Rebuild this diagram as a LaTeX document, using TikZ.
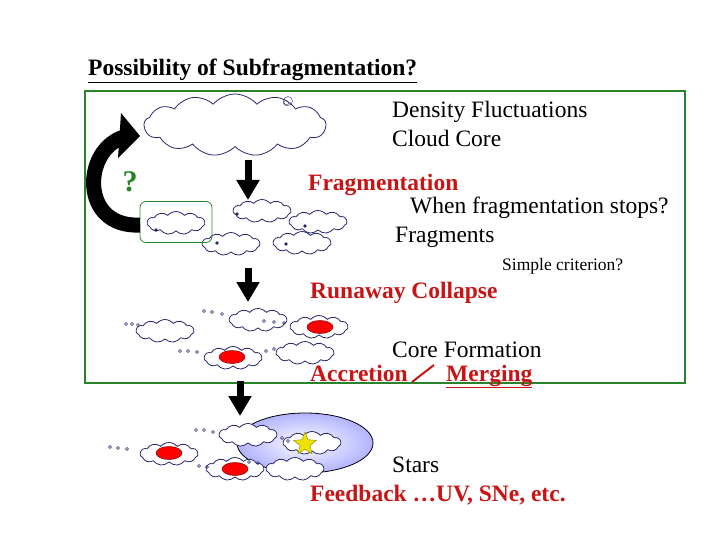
\documentclass[tikz,border=0pt]{standalone}
\usepackage{fontspec}
\setmainfont{Liberation Serif}
\usetikzlibrary{shapes.symbols,shapes.geometric,arrows.meta}
\definecolor{cl}{RGB}{40,40,110}
\definecolor{gr}{RGB}{40,130,40}
\definecolor{rd}{RGB}{200,20,20}
\begin{document}
\begin{tikzpicture}[x=1pt,y=-1pt,
  cld/.style={cloud,cloud puffs=11,cloud puff arc=100,aspect=2.8,draw=cl,fill=white,line width=0.8pt,inner sep=0pt,minimum width=58pt,minimum height=23pt},
  core/.style={ellipse,fill=red,draw=rd!60!black,line width=0.5pt,minimum width=26pt,minimum height=13pt,inner sep=0pt},
  bar/.style={-{Triangle[width=22pt,length=20pt]},line width=7pt},
  txt/.style={anchor=base west,font=\fontsize{23.5}{26}\selectfont,inner sep=0pt},
  rtxt/.style={txt,text=rd,font=\fontsize{23.5}{26}\selectfont\bfseries},
  dot/.style={circle,draw=cl,line width=0.6pt,inner sep=0pt,minimum size=3pt}]
\useasboundingbox (0,0) rectangle (720,540);
\node[anchor=base west,inner sep=0pt,font=\fontsize{23.5}{26}\selectfont\bfseries] (title) at (88,76) {\underline{Possibility of Subfragmentation?}};
\draw[gr,line width=2pt] (85,91) rectangle (685,383);
% big cloud
\node[cld,cloud puffs=13,minimum width=182pt,minimum height=62pt] (big) at (235,125) {};
\node[circle,draw=cl,inner sep=0pt,minimum size=9pt] (ring) at (288,101) {};
\node[circle,draw=cl,inner sep=0pt,minimum size=5pt] (ring2) at (286,103) {};
\coordinate (a1s) at (248,160); \coordinate (a1e) at (248,200);
\draw[bar] (a1s) -- (a1e);
% fragments
\node[cld] (f1) at (262,211) {};
\node[cld] (f2) at (318,222) {};
\node[cld] (f3) at (231,244) {};
\node[cld] (f4) at (302,243) {};
\node[draw=gr,rounded corners=6pt,line width=0.8pt,minimum width=72pt,minimum height=41pt] (box) at (176,222) {};
\node[cld] (f5) at (176,223) {};
\foreach \p in {(237,214),(305,226),(217,243),(286,244),(156,230)} \fill[cl] \p circle (1.8pt);
% curved arrow
\coordinate (ca) at (140,225);
\coordinate (cb) at (124,137);
\draw[line width=15pt] (ca) .. controls (80,228) and (82,150) .. (cb);
\fill (140,136) -- (121,113) -- (118,158) -- cycle;
\node[font=\fontsize{30}{30}\selectfont\bfseries,text=gr] (q) at (130,182) {?};
\coordinate (a2s) at (248,268); \coordinate (a2e) at (248,302);
\draw[bar] (a2s) -- (a2e);
% collapse clouds
\node[cld] (c1) at (165,331) {};
\node[cld] (c2) at (258,320) {};
\node[cld] (c3) at (319,327) {};
\node[cld] (c4) at (233,358) {};
\node[cld] (c5) at (305,353) {};
\node[core] (k3) at (320,327) {};
\node[core] (k4) at (232,357) {};
\foreach \p in {(126,324),(132,324),(138,325),(204,311),(212,312),(222,314),(180,351),(188,351),(197,352),(266,351),(274,349),(264,321),(274,322),(284,323)} \node[dot] at \p {};
\coordinate (a3s) at (240,381); \coordinate (a3e) at (240,416);
\draw[bar] (a3s) -- (a3e);
% disk
\shade[inner color=white,outer color=blue!30!white,draw=black,line width=0.8pt] (305,443) ellipse (68pt and 30pt);
\node[cld] (d1) at (248,435) {};
\node[cld] (d2) at (312,443) {};
\node[cld] (d3) at (169,454) {};
\node[cld] (d4) at (235,469) {};
\node[cld] (d5) at (295,469) {};
\node[core] (k5) at (169,453) {};
\node[core] (k6) at (235,469) {};
\node[star,star points=5,star point ratio=2.3,fill=yellow!85!olive,draw=olive,minimum size=24pt,inner sep=0pt] (st) at (305,444) {};
\foreach \p in {(110,447),(118,448),(127,449),(196,430),(204,430),(213,432),(199,466),(207,467),(282,438),(288,441),(249,462),(258,463)} \node[dot] at \p {};
% texts
\node[txt] (t1) at (392,118) {Density Fluctuations};
\node[txt] (t2) at (392,147) {Cloud Core};
\node[rtxt] (t3) at (308,191) {Fragmentation};
\node[txt] (t4) at (410,214) {When fragmentation stops?};
\node[txt] (t5) at (395,243) {Fragments};
\node[txt,font=\fontsize{17.5}{19}\selectfont] (t6) at (502,270) {Simple criterion?};
\node[rtxt] (t7) at (310,298) {Runaway Collapse};
\node[txt] (t8) at (392,357) {Core Formation};
\node[rtxt] (t9) at (310,381) {Accretion};
\coordinate (s1) at (412,382); \coordinate (s2) at (434,365);
\draw[rd,line width=2pt] (s1) -- (s2);
\node[rtxt] (t10) at (446,381) {\underline{Merging}};
\node[txt] (t11) at (392,472) {Stars};
\node[rtxt] (t12) at (310,501) {Feedback \dots UV, SNe, etc.};
\end{tikzpicture}
\end{document}
